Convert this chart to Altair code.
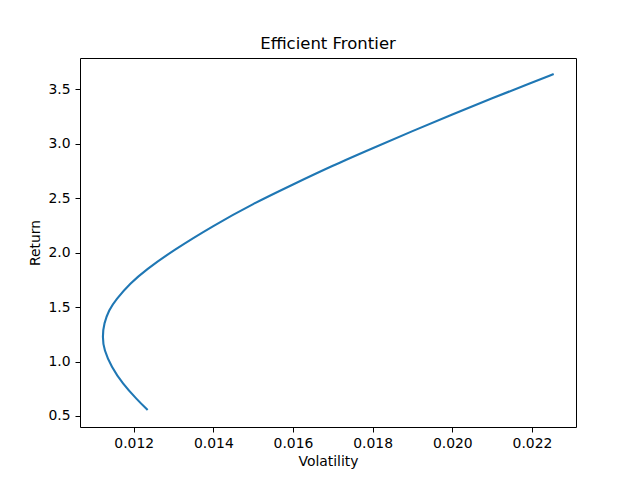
import altair as alt
import pandas as pd

# (ordered along the curve)
returns = [0.555, 0.647, 0.800, 0.953, 1.106, 1.228, 1.351, 1.473, 1.565, 1.719,
           1.841, 2.023, 2.248, 2.450, 2.626, 2.800, 2.958, 3.116, 3.270, 3.418,
           3.561, 3.640]
volatility = [0.012350, 0.012093, 0.011716, 0.011440, 0.011254, 0.011214, 0.011254,
              0.011380, 0.011545, 0.011915, 0.012301, 0.013000, 0.014000, 0.015000,
              0.016000, 0.017000, 0.018000, 0.019000, 0.020000, 0.021000, 0.022000,
              0.022545]
x_ticks = [0.012, 0.014, 0.016, 0.018, 0.020, 0.022]
y_ticks = [0.5, 1.0, 1.5, 2.0, 2.5, 3.0, 3.5]

df = pd.DataFrame({"i": list(range(len(returns))), "Volatility": volatility, "Return": returns})

FONT = "DejaVu Sans"

chart = alt.Chart(df).mark_line(
    color="#1f77b4", strokeWidth=2.1, interpolate="basis"
).encode(
    x=alt.X("Volatility:Q",
            scale=alt.Scale(domain=[0.010652, 0.023105], nice=False, zero=False),
            axis=alt.Axis(values=x_ticks, format=".3f", title="Volatility",
                          grid=False, domain=False, tickSize=5, tickColor="black",
                          tickWidth=1, labelPadding=4, labelFontSize=13.9,
                          labelFont=FONT, labelColor="black", titleFont=FONT,
                          titleFontSize=13.9, titleFontWeight="normal",
                          titleColor="black", titlePadding=5)),
    y=alt.Y("Return:Q",
            scale=alt.Scale(domain=[0.399, 3.787], nice=False, zero=False),
            axis=alt.Axis(values=y_ticks, format=".1f", title="Return",
                          grid=False, domain=False, tickSize=5, tickColor="black",
                          tickWidth=1, labelPadding=5, labelFontSize=13.9,
                          labelFont=FONT, labelColor="black", titleFont=FONT,
                          titleFontSize=13.9, titleFontWeight="normal",
                          titleColor="black", titlePadding=5)),
    order="i:Q",
).properties(
    width=496,
    height=369,
    title=alt.TitleParams("Efficient Frontier", font=FONT, fontSize=16.5,
                          fontWeight="normal", color="black", offset=6),
    autosize=alt.AutoSizeParams(type="none"),
    padding={"left": 72, "top": 50, "right": 56, "bottom": 45},
).configure_view(
    stroke="black", strokeWidth=1
)

chart.save("out.html", embed_options={"renderer": "svg", "actions": False})
